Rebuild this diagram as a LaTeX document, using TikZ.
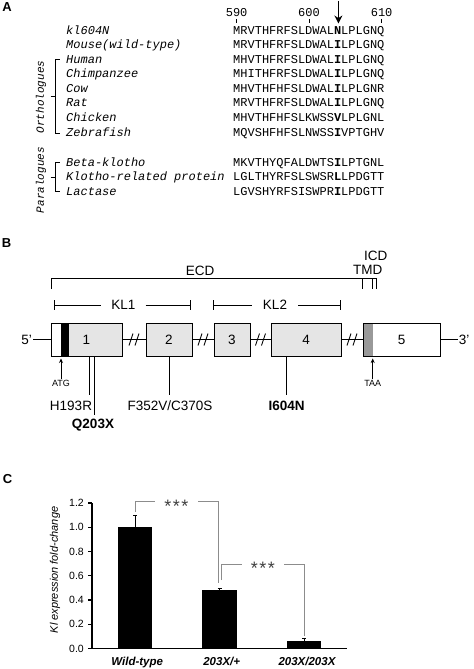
\documentclass[tikz,border=0pt]{standalone}
\usepackage{fontspec}
\setmainfont{Liberation Sans}
\newfontfamily\monof{Liberation Mono}
\usetikzlibrary{arrows.meta,calc}
\definecolor{exgray}{gray}{0.9}
\definecolor{dkgray}{gray}{0.6}
\definecolor{brgray}{gray}{0.55}
\begin{document}
\begin{tikzpicture}[x=1bp,y=-1bp,
  seqtext/.style={font=\monof\fontsize{12bp}{14bp}\selectfont,anchor=base west,inner sep=0pt},
  sname/.style={font=\monof\itshape\fontsize{12bp}{14bp}\selectfont,anchor=base west,inner sep=0pt},
  grplab/.style={font=\monof\itshape\fontsize{11bp}{13bp}\selectfont,rotate=90,inner sep=0pt},
  posnum/.style={font=\monof\fontsize{12bp}{14bp}\selectfont,anchor=base,inner sep=0pt},
  panel/.style={font=\bfseries\fontsize{13bp}{15bp}\selectfont,anchor=base,inner sep=0pt},
  blab/.style={font=\fontsize{13.5bp}{16bp}\selectfont,inner sep=0pt},
  smalllab/.style={font=\fontsize{9bp}{10bp}\selectfont,inner sep=0.5bp},
  exon/.style={draw,line width=0.9bp,fill=exgray,minimum height=33bp,inner sep=0pt,font=\fontsize{13.5bp}{16bp}\selectfont},
  bline/.style={line width=0.9bp},
  brk/.pic={\draw[line width=0.9bp] (-5,6) -- (-1,-6) (1,6) -- (5,-6);},
  ticklab/.style={font=\fontsize{10.5bp}{12bp}\selectfont,anchor=east,inner sep=0pt},
  xlab/.style={font=\bfseries\itshape\fontsize{11.5bp}{14bp}\selectfont,anchor=base,inner sep=0pt},
  siglab/.style={font=\fontsize{18bp}{20bp}\selectfont,anchor=base,inner sep=0pt,text=black!75},
  sigline/.style={draw=brgray,line width=1bp},
  axisline/.style={line width=1.5bp}
]
\useasboundingbox (0,0) rectangle (474,669);

% ---------------- Panel A ----------------
\node[panel] (A) at (7,12) {A};
\foreach \nn/\xx/\lab in {p590/236.6/590, p600/309/600, p610/381.6/610}{
  \node[posnum] (\nn) at (\xx,16.5) {\lab};
  \draw[line width=0.8bp] (\xx,18.8) -- (\xx,23.3);
}
\coordinate (arTop) at (338.4,1);
\coordinate (arBot) at (338.4,23.5);
\draw[line width=1.3bp,-{Stealth[length=8bp,width=8bp]}] (arTop) -- (arBot);

\foreach \i/\yb/\nm/\sq in {
  1/34.3/{kl604N}/{MRVTHFRFSLDWAL\textbf{N}LPLGNQ},
  2/48.8/{Mouse(wild-type)}/{MRVTHFRFSLDWAL\textbf{I}LPLGNQ},
  3/63.3/{Human}/{MHVTHFRFSLDWAL\textbf{I}LPLGNQ},
  4/77.8/{Chimpanzee}/{MHITHFRFSLDWAL\textbf{I}LPLGNQ},
  5/92.3/{Cow}/{MHVTHFHFSLDWAL\textbf{I}LPLGNR},
  6/106.8/{Rat}/{MRVTHFRFSLDWAL\textbf{I}LPLGNQ},
  7/121.3/{Chicken}/{MHVTHFHFSLKWSS\textbf{V}LPLGNL},
  8/136/{Zebrafish}/{MQVSHFHFSLNWSS\textbf{I}VPTGHV},
  9/166/{Beta-klotho}/{MKVTHYQFALDWTS\textbf{I}LPTGNL},
  10/180.5/{Klotho-related protein}/{LGLTHYRFSLSWSR\textbf{L}LPDGTT},
  11/195/{Lactase}/{LGVSHYRFSISWPR\textbf{I}LPDGTT}}{
  \node[sname] (n\i) at (66,\yb) {\nm};
  \node[seqtext] (s\i) at (233,\yb) {\sq};
}
% brackets
\draw[line width=0.9bp] (59.5,59.5) -- (55,59.5) -- (55,133) -- (59.5,133) (50.5,96.5) -- (55,96.5);
\draw[line width=0.9bp] (59.5,162.5) -- (55,162.5) -- (55,191.5) -- (59.5,191.5) (50.5,177) -- (55,177);
\node[grplab] (orth) at (41,97) {Orthologues};
\node[grplab] (para) at (41,180) {Paralogues};

% ---------------- Panel B ----------------
\node[panel] (B) at (6.5,247) {B};
\node[blab,anchor=base] (ecd) at (200,275) {ECD};
\node[blab,anchor=base] (tmd) at (367.7,274) {TMD};
\node[blab,anchor=base] (icd) at (375.7,260) {ICD};
\draw[bline] (51,289) -- (51,278) -- (377,278);
\foreach \xx in {362,372.7,376.7}{\draw[bline] (\xx,278) -- (\xx,289);}

\node[blab,inner xsep=10bp] (kl1) at (123.3,305) {KL1};
\node[blab,inner xsep=11bp] (kl2) at (275,305) {KL2};
\coordinate (kl1a) at (54,305); \coordinate (kl1b) at (190,305);
\coordinate (kl2a) at (213.3,305); \coordinate (kl2b) at (340.7,305);
\draw[bline] (kl1a) -- (kl1.west) (kl1.east) -- (kl1b);
\draw[bline] (kl2a) -- (kl2.west) (kl2.east) -- (kl2b);
\foreach \c in {kl1a,kl1b,kl2a,kl2b}{\draw[bline] ([yshift=5bp]\c) -- ([yshift=-5bp]\c);}

% exon backgrounds
\fill[exgray] (51,323) rectangle (122,356);
\fill[white] (51,323) rectangle (61,356);
\fill[black] (61,323) rectangle (68.5,356);
\fill[white] (363,323) rectangle (440,356);
\fill[dkgray] (363,323) rectangle (372.7,356);
\node[exon,fill=none,minimum width=71bp] (e1) at (86.5,339.5) {1};
\node[exon,minimum width=46bp] (e2) at (169,339.5) {2};
\node[exon,minimum width=36bp] (e3) at (232,339.5) {3};
\node[exon,minimum width=70bp] (e4) at (306,339.5) {4};
\node[exon,fill=none,minimum width=77bp] (e5) at (401.5,339.5) {5};
\node[blab,inner sep=1bp] (p5) at (26.7,339.5) {5’};
\node[blab,inner sep=1bp] (p3) at (464,339.5) {3’};
\draw[bline] (p5.east) -- (e1.west) (e1.east) -- (e2.west) (e2.east) -- (e3.west)
  (e3.east) -- (e4.west) (e4.east) -- (e5.west) (e5.east) -- (p3.west);
\path ($(e1.east)!.5!(e2.west)$) pic {brk};
\path ($(e2.east)!.5!(e3.west)$) pic {brk};
\path ($(e3.east)!.5!(e4.west)$) pic {brk};
\path ($(e4.east)!.5!(e5.west)$) pic {brk};

\node[smalllab] (atg) at (61,383) {ATG};
\node[smalllab] (taa) at (372.7,383) {TAA};
\coordinate (atgT) at (61,358.5);
\coordinate (taaT) at (372.7,358.5);
\draw[line width=0.8bp,-{Stealth[length=4.5bp,width=4bp]}] (atg.north) -- (atgT);
\draw[line width=0.8bp,-{Stealth[length=4.5bp,width=4bp]}] (taa.north) -- (taaT);

\node[blab,anchor=base] (h193) at (71,410) {H193R};
\node[blab,anchor=base,font=\bfseries\fontsize{13.5bp}{16bp}\selectfont] (q203) at (93,428) {Q203X};
\node[blab,anchor=base] (f352) at (170,410) {F352V/C370S};
\node[blab,anchor=base,font=\bfseries\fontsize{13.5bp}{16bp}\selectfont] (i604) at (286.7,410) {I604N};
\coordinate (mH) at (89.5,356); \coordinate (mQ) at (94.5,356);
\coordinate (mF) at (169.3,356); \coordinate (mI) at (286,356);
\draw[bline] (mH) -- (89.5,395);
\draw[bline] (mQ) -- (94.5,415);
\draw[bline] (mF) -- (169.3,395);
\draw[bline] (mI) -- (286,395);

% ---------------- Panel C ----------------
\node[panel] (C) at (7.5,483) {C};
\draw[axisline] (92,503) -- (92,648.5) -- (347,648.5);
\foreach \v/\l in {0/0.0,0.2/0.2,0.4/0.4,0.6/0.6,0.8/0.8,1.0/1.0,1.2/1.2}{
  \draw[line width=1.2bp] (88,648.5-121.25*\v) -- (92,648.5-121.25*\v);
  \node[ticklab] (t\l) at (84,648.5-121.25*\v) {\l};
}
\node[font=\itshape\fontsize{11bp}{13bp}\selectfont,rotate=90,inner sep=0pt] (ylab) at (55,570) {Kl expression fold-change};

% bars
\fill (118,648.5) rectangle (152,527.25);
\fill (202,648.5) rectangle (237,590.3);
\fill (287,648.5) rectangle (321,640.6);
\draw[line width=0.8bp] (135,527.25) -- (135,515) (133,515) -- (137,515);
\draw[line width=0.8bp] (219.5,590.3) -- (219.5,588) (217.5,588) -- (221.5,588);
\draw[line width=0.8bp] (304,640.6) -- (304,638.6) (302,638.6) -- (306,638.6);

\node[xlab] (wt) at (137.2,665) {Wild-type};
\node[xlab] (het) at (221.7,665) {203X/+};
\node[xlab] (hom) at (307,665) {203X/203X};

% significance
\node[siglab] (st1) at (176.5,512) {*\hspace{1.5bp}*\hspace{1.5bp}*};
\node[siglab] (st2) at (263,574.5) {*\hspace{1.5bp}*\hspace{1.5bp}*};
\coordinate (c1a) at (135,512); \coordinate (c1b) at (218,583);
\coordinate (s1l) at (155,501.5); \coordinate (s1r) at (198,501.5);
\coordinate (c2a) at (221,580); \coordinate (c2b) at (304,636);
\coordinate (s2l) at (242,564); \coordinate (s2r) at (284,564);
\draw[sigline] (c1a) |- (s1l) (s1r) -| (c1b);
\draw[sigline] (c2a) |- (s2l) (s2r) -| (c2b);
\end{tikzpicture}
\end{document}
